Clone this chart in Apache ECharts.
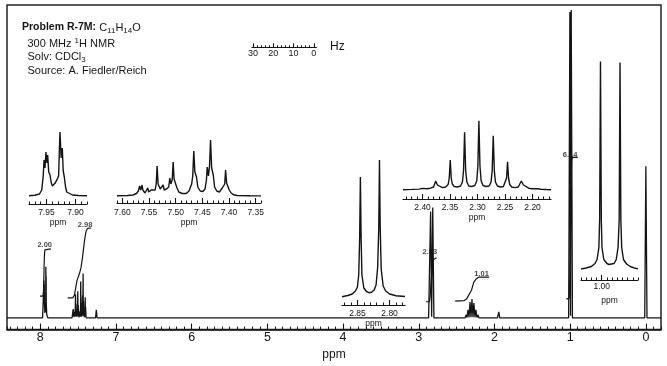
<!DOCTYPE html>
<html><head><meta charset="utf-8">
<script src="https://cdn.jsdelivr.net/npm/echarts@6/dist/echarts.min.js"></script>
<style>html,body{margin:0;padding:0;background:#fff}#c{width:667px;height:366px}</style>
</head><body><div id="c"></div>
<script>
// ---------- DATA (ppm, height above baseline in plot units) ----------
const mainSpectrum = [
 [8.44,0],[7.97,0],[7.962,2],[7.956,28],[7.954,18],[7.952,38],[7.950,24],[7.948,34],[7.946,15],[7.944,14],[7.940,5],[7.935,7],[7.931,9],[7.929,6],[7.927,52],[7.925,30],[7.923,42],[7.921,15],[7.919,14],[7.915,3],[7.90,0],
 [7.58,0],[7.5675,8],[7.565,1],[7.563,9],[7.5615,1],[7.560,6],[7.556,1],[7.5524,6],[7.549,1],[7.546,5],[7.540,1],[7.5348,24],[7.529,2],[7.5235,9],[7.520,1],[7.5173,6],[7.514,1],[7.511,14],[7.508,2],[7.5047,27],[7.502,2],[7.4998,13],[7.490,0.5],[7.4722,7],[7.469,1],[7.466,37],[7.463,2],[7.4609,15],[7.455,1],[7.4408,23],[7.438,2],[7.4346,45],[7.432,2],[7.4295,17],[7.420,0.5],[7.4126,6],[7.409,1],[7.4064,21],[7.404,1],[7.4021,11],[7.395,0],
 [7.27,0],[7.26,8],[7.25,0],
 [2.87,0],[2.8437,108],[2.830,1],[2.8157,112],[2.80,0],
 [2.42,0],[2.4006,0.4],[2.388,0],[2.3752,3],[2.362,0.3],[2.3497,8],[2.336,0.5],[2.3236,16],[2.310,0.6],[2.2976,19],[2.284,0.6],[2.2715,15],[2.258,0.5],[2.2455,8],[2.232,0.3],[2.2194,3],[2.205,0],[2.1933,0.4],[2.18,0],
 [1.96,0],[1.943,6],[1.93,0],
 [1.26,0],[1.246,1.2],[1.235,0],[1.15,0],[1.136,1.2],[1.125,0],
 [1.02,0],[1.0037,311],[0.995,2],[0.9861,313],[0.97,0],
 [0.015,0],[0.0,154],[-0.015,0],[-0.2,0]
];
const integral200 = [[8.005,22],[7.965,22],[7.958,26],[7.954,38],[7.950,53],[7.945,64],[7.940,69],[7.935,70],[7.86,70]];
const integral298 = [[7.638,20.3],[7.572,20.3],[7.549,23],[7.515,38],[7.506,40],[7.483,45],[7.462,51],[7.440,63],[7.417,78],[7.396,88],[7.374,91],[7.330,91.3]];
const integral283 = [[2.905,16.3],[2.86,16.3],[2.85,21],[2.84,34],[2.83,44],[2.82,54],[2.81,59],[2.80,61],[2.765,61]];
const integral101 = [[2.52,17],[2.40,17.5],[2.37,19],[2.304,28],[2.273,36.3],[2.238,39.7],[2.21,41.3],[2.07,41.3]];
const integral614 = [[1.05,19],[1.012,20],[1.0,60],[0.99,130],[0.98,160],[0.97,163],[0.90,163]];
const integralTexts = ['2.00','2.98','2.83','1.01','6.14'];
const integralAnchors = [[7.942,74],[7.409,94],[2.855,67],[2.171,45],[1.0,166]];

const inset795 = [[7.980,0.3],[7.970,0.8],[7.962,2],[7.958,6],[7.9555,20],[7.9541,36],[7.9525,28],[7.9507,44],[7.9492,33],[7.9478,41],[7.946,24],[7.9438,21],[7.9415,13],[7.9398,10],[7.9375,11],[7.9352,12.7],[7.933,11],[7.9306,17.7],[7.929,20],[7.9266,64],[7.9245,38],[7.9226,48],[7.921,25],[7.9191,19],[7.917,9],[7.915,4],[7.912,2],[7.905,1],[7.895,0.5],[7.880,0.2]];
const inset750 = [[7.610,0.2],[7.590,0.5],[7.580,1],[7.5735,2.5],[7.5700,5],[7.5675,10],[7.5655,6],[7.5630,11],[7.5615,6],[7.5600,7],[7.5575,3],[7.5545,4],[7.5524,8],[7.5505,4],[7.5480,3.5],[7.5460,6],[7.5435,4],[7.5385,6],[7.5365,12],[7.5348,30],[7.5330,12],[7.5290,7],[7.5260,8],[7.5235,11],[7.5215,6],[7.5195,5],[7.5173,7],[7.5150,6],[7.5130,9],[7.5110,18],[7.5090,12],[7.5065,16],[7.5047,34],[7.5030,17],[7.4998,16],[7.4975,8],[7.4940,4],[7.4880,2.5],[7.4800,2.5],[7.4750,5],[7.4722,9],[7.4700,12],[7.4680,20],[7.4660,45],[7.4640,24],[7.4609,19],[7.4585,9],[7.4540,5],[7.4490,4.5],[7.4450,7],[7.4425,15],[7.4408,29],[7.4385,20],[7.4365,30],[7.4346,56],[7.4325,28],[7.4295,21],[7.4270,9],[7.4230,5],[7.4180,4],[7.4150,5],[7.4126,8],[7.4100,7],[7.4080,12],[7.4064,26],[7.4045,13],[7.4021,14],[7.3995,6],[7.3960,3],[7.3910,1.2],[7.3850,0.5],[7.3600,0.2],[7.3400,0.1]];
const inset283 = [[2.874,0.3],[2.865,1.5],[2.858,3],[2.853,6],[2.850,10],[2.848,22],[2.8465,60],[2.8454,120],[2.8443,60],[2.843,22],[2.840,9],[2.836,5.5],[2.832,4.3],[2.828,4.8],[2.824,7],[2.821,12],[2.8185,30],[2.8168,70],[2.8157,137],[2.8146,70],[2.813,28],[2.810,11],[2.806,6],[2.800,3],[2.790,1.3],[2.776,0.5]];
const inset100 = [[1.040,0.5],[1.030,1.5],[1.020,3],[1.013,6],[1.009,10],[1.0055,22],[1.0040,50],[1.0024,208],[1.0008,50],[0.9995,22],[0.996,10],[0.990,6],[0.986,5],[0.9835,4],[0.9815,5.5],[0.980,4.5],[0.976,6],[0.972,10],[0.9685,22],[0.9663,50],[0.9647,207],[0.9631,50],[0.9615,22],[0.958,10],[0.952,5.5],[0.945,3],[0.935,1.2],[0.930,0.6]];
const inset230 = [[2.4356,0.3],[2.420,0.6],[2.406,0.9],[2.4025,1.2],[2.4006,1.6],[2.3985,1.2],[2.392,1.3],[2.386,1.8],[2.380,3],[2.3775,5],[2.3762,9],[2.3752,10],[2.3742,9],[2.373,5],[2.370,3],[2.364,2.4],[2.358,3],[2.3535,5.5],[2.3515,12],[2.3497,30],[2.3479,12],[2.346,6],[2.3425,3.5],[2.337,3],[2.331,4],[2.3275,8],[2.3255,20],[2.3236,57.7],[2.3217,20],[2.3195,8],[2.316,4],[2.3105,3.5],[2.305,4.5],[2.3015,9],[2.2995,24],[2.2976,69.3],[2.2957,24],[2.2935,9],[2.290,4.5],[2.2845,3.5],[2.279,4],[2.2755,8],[2.2735,19],[2.2715,54.3],[2.2695,19],[2.2675,8],[2.264,4],[2.2585,3],[2.253,3.5],[2.2495,5.5],[2.2473,12],[2.2455,28.3],[2.2437,12],[2.2415,5.5],[2.238,3],[2.232,2.4],[2.226,3],[2.2225,5],[2.2205,9],[2.2194,10],[2.2184,9],[2.2165,5],[2.213,3],[2.207,1.8],[2.201,1.3],[2.1955,1.2],[2.1933,1.6],[2.191,1.2],[2.185,0.8],[2.175,0.5],[2.1665,0.3]];

// tick labels
const mainLabels = [0,1,2,3,4,5,6,7,8];
const ticks795 = [7.88,7.89,7.90,7.91,7.92,7.93,7.94,7.95,7.96,7.97,7.98];
const labels795 = [7.90,7.95];
const ticks750 = [7.34,7.35,7.36,7.37,7.38,7.39,7.40,7.41,7.42,7.43,7.44,7.45,7.46,7.47,7.48,7.49,7.50,7.51,7.52,7.53,7.54,7.55,7.56,7.57,7.58,7.59,7.60,7.61];
const labels750 = [7.35,7.40,7.45,7.50,7.55,7.60];
const ticks283 = [2.78,2.79,2.80,2.81,2.82,2.83,2.84,2.85,2.86,2.87];
const labels283 = [2.80,2.85];
const ticks100 = [0.93,0.94,0.95,0.96,0.97,0.98,0.99,1.00,1.01,1.02,1.03,1.04];
const labels100 = [1.00];
const ticks230 = [2.17,2.18,2.19,2.20,2.21,2.22,2.23,2.24,2.25,2.26,2.27,2.28,2.29,2.30,2.31,2.32,2.33,2.34,2.35,2.36,2.37,2.38,2.39,2.40,2.41,2.42,2.43];
const labels230 = [2.20,2.25,2.30,2.35,2.40];
const hzTicks = [0,2,4,6,8,10,12,14,16,18,20,22,24,26,28,30];
const hzLabels = [0,10,20,30];

// ---------- STYLE ----------
const INK = '#141414';
const FONT = '"Liberation Sans", Arial, sans-serif';

function pairAxes(grid, min, max, minor, major, opt) {
  return [
    {type:'value', gridIndex:grid, position:'bottom', min:min, max:max, inverse:true,
     axisLine:{show:true, onZero:false, lineStyle:{color:INK, width:opt.lineW||1.2}},
     axisTick:{show:true, inside:true, length:opt.minorLen, customValues:minor, lineStyle:{color:INK, width:1}},
     axisLabel:{show:false}, splitLine:{show:false}},
    {type:'value', gridIndex:grid, position:'bottom', min:min, max:max, inverse:true,
     axisLine:{show:false, onZero:false},
     axisTick:{show:true, inside:true, length:opt.majorLen, customValues:major, lineStyle:{color:INK, width:1.1}},
     axisLabel:{show:true, customValues:major, margin:opt.margin, fontSize:opt.fs, color:INK, fontFamily:FONT,
                fontWeight:opt.fw||'normal', formatter:opt.fmt},
     name:opt.name||'', nameLocation:'middle', nameGap:opt.nameGap||10,
     nameTextStyle:{fontSize:opt.nfs||opt.fs, color:INK, fontFamily:FONT},
     splitLine:{show:false}}
  ];
}
const f2 = v => v.toFixed(2);
const insetOpt = (margin, nameGap) => ({minorLen:2.5, majorLen:5, margin:margin, fs:8.5, fmt:f2, name:'ppm', nameGap:nameGap});

const grids = [
  {left:7, top:5, width:654, height:330, show:true, borderColor:'#222222', borderWidth:1.5, backgroundColor:'transparent'},
  {left:29, top:126, width:58, height:78},
  {left:117, top:133, width:144, height:70},
  {left:342, top:152, width:63, height:153},
  {left:581, top:55, width:57, height:225},
  {left:403, top:120, width:148, height:79},
  {left:252, top:40, width:64.4, height:7.3}
];
const xAxes = [].concat(
  pairAxes(0, -0.2, 8.44, null, mainLabels, {minorLen:3, majorLen:6, margin:1.5, fs:12.5, fmt:v=>String(v), name:'ppm', nameGap:15, nfs:12, lineW:1.5}),
  pairAxes(1, 7.88, 7.98, ticks795, labels795, insetOpt(4.5, 13.5)),
  pairAxes(2, 7.34, 7.61, ticks750, labels750, insetOpt(5, 14)),
  pairAxes(3, 2.776, 2.874, ticks283, labels283, insetOpt(3.8, 14)),
  pairAxes(4, 0.93, 1.04, ticks100, labels100, insetOpt(2.5, 10.5)),
  pairAxes(5, 2.1665, 2.4356, ticks230, labels230, insetOpt(3.8, 13.5)),
  pairAxes(6, -1.3, 30.5, hzTicks, hzLabels, {minorLen:2, majorLen:4, margin:2.2, fs:9, fmt:v=>String(v)})
);
// main minor ticks: every 0.1 ppm counted from min (-0.2 is a multiple of 0.1)
xAxes[0].axisTick = {show:true, inside:true, length:3, interval:0, lineStyle:{color:INK,width:1}};
xAxes[0].interval = 0.1;

const yRanges = [[-12,318],[-8,70],[-7,63],[-8,145],[-10.5,214.5],[-9,70],[0,1]];
const yAxes = yRanges.map((r,i)=>({type:'value', gridIndex:i, min:r[0], max:r[1], show:false}));

const lineS = (data, xi, yi, w) => ({type:'line', data:data, xAxisIndex:xi, yAxisIndex:yi, symbol:'none',
  lineStyle:{color:INK, width:w||1}, silent:true, animation:false});

const series = [
  lineS(mainSpectrum, 0, 0, 1.3),
  lineS(integral200, 0, 0, 1.2), lineS(integral298, 0, 0, 1.2), lineS(integral283, 0, 0, 1.2),
  lineS(integral101, 0, 0, 1.2), lineS(integral614, 0, 0, 1.2),
  {type:'scatter', xAxisIndex:0, yAxisIndex:0, symbolSize:1, itemStyle:{color:'rgba(0,0,0,0)'}, silent:true,
   data: integralAnchors.map((p,i)=>({value:[p[0],p[1]], name:integralTexts[i]})),
   label:{show:true, position:'inside', formatter:p=>p.name, fontSize:7.5, fontWeight:'bold', color:INK, fontFamily:FONT}},
  lineS(inset795, 2, 1, 1.4),
  lineS(inset750, 4, 2, 1.4),
  lineS(inset283, 6, 3, 1.4),
  lineS(inset100, 8, 4, 1.4),
  lineS(inset230, 10, 5, 1.4)
];

const rich = {
  b:{fontSize:10.5, fontWeight:'bold', fontFamily:FONT, fill:INK, lineHeight:14},
  n:{fontSize:11, fontFamily:FONT, fill:INK, lineHeight:14},
  s:{fontSize:8, fontFamily:FONT, fill:INK, lineHeight:7, verticalAlign:'bottom'},
  p:{fontSize:8, fontFamily:FONT, fill:INK, lineHeight:7, verticalAlign:'top'}
};
const graphic = [
  {type:'text', left:22, top:22, silent:true, style:{text:'{b|Problem R-7M:}{n| C}{s|11}{n|H}{s|14}{n|O}', rich:rich}},
  {type:'text', left:27.5, top:36.5, silent:true, style:{text:'{n|300 MHz }{p|1}{n|H NMR}', rich:rich}},
  {type:'text', left:27.5, top:51, silent:true, style:{text:'{n|Solv: CDCl}{s|3}', rich:rich}},
  {type:'text', left:27.5, top:65, silent:true, style:{text:'{n|Source: A. Fiedler/Reich}', rich:rich}},
  {type:'text', left:330, top:41, silent:true, style:{text:'Hz', fontSize:12, fontFamily:FONT, fill:INK}}
];

const chart = echarts.init(document.getElementById('c'), null, {renderer:'canvas'});
chart.setOption({
  animation:false, backgroundColor:'#ffffff',
  grid:grids, xAxis:xAxes, yAxis:yAxes, series:series, graphic:graphic
});
</script></body></html>
